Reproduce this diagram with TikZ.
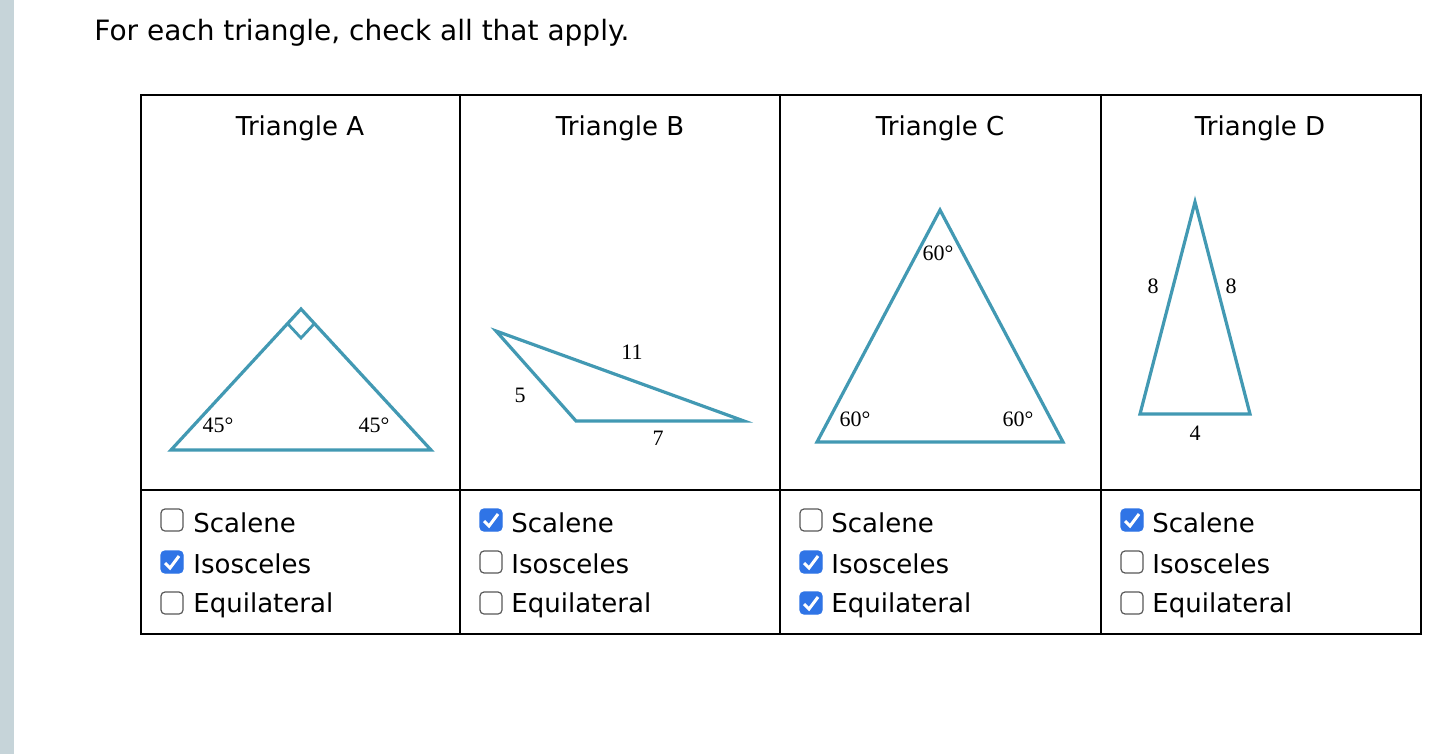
\documentclass[tikz,border=0pt]{standalone}
\usepackage{fontspec}
\setmainfont{DejaVu Sans}
\newfontfamily\serifnum{Liberation Serif}
\definecolor{tri}{HTML}{4299B3}
\definecolor{cbblue}{HTML}{2F74E6}
\definecolor{barg}{HTML}{C6D4D9}
\tikzset{
 triline/.style={draw=tri,line width=1.6pt,line join=miter},
 lab/.style={font=\serifnum\fontsize{11}{11}\selectfont,inner sep=0pt},
 head/.style={font=\fontsize{13}{13}\selectfont,inner sep=0pt},
 opt/.style={font=\fontsize{13}{13}\selectfont,inner sep=0pt,anchor=west},
 cbempty/.style={draw=black!65,line width=0.6pt,rounded corners=2pt,fill=white},
 cbfull/.style={draw=cbblue,fill=cbblue,line width=0.6pt,rounded corners=2pt}
}
\newcommand{\cbox}[3]{% x y checked
 \ifnum#3=1
  \draw[cbfull] (#1-11,#2-11) rectangle (#1+11,#2+11);
  \draw[white,line width=1.5pt] (#1-7,#2+1) -- (#1-2,#2+6) -- (#1+7,#2-6);
 \else
  \draw[cbempty] (#1-11,#2-11) rectangle (#1+11,#2+11);
 \fi}
\begin{document}
\begin{tikzpicture}[x=0.5pt,y=-0.5pt]
\useasboundingbox (0,0) rectangle (1438,754);
\fill[white] (0,0) rectangle (1438,754);
\fill[barg] (0,0) rectangle (14,754);
\node[anchor=west,font=\fontsize{14}{14}\selectfont,inner sep=0pt] (title) at (94,33) {For each triangle, check all that apply.};
\draw[line width=0.9pt] (141,95) rectangle (1421,634);
\draw[line width=0.9pt] (141,490) -- (1421,490);
\foreach \x in {460,780,1101} \draw[line width=0.9pt] (\x,95) -- (\x,634);
\node[head] (hA) at (300,128) {Triangle A};
\node[head] (hB) at (620,128) {Triangle B};
\node[head] (hC) at (940,128) {Triangle C};
\node[head] (hD) at (1260,128) {Triangle D};
% A
\draw[triline] (171,450) -- (431,450) -- (301,309) -- cycle;
\draw[tri,line width=1.4pt] (287,323) -- (301,338) -- (315,323);
\node[lab] (a1) at (218,425) {45°};
\node[lab] (a2) at (374,425) {45°};
% B
\draw[triline] (496,331) -- (576,421) -- (744,421) -- cycle;
\node[lab] (b1) at (632,352) {11};
\node[lab] (b2) at (520,395) {5};
\node[lab] (b3) at (658,438) {7};
% C
\draw[triline] (817,442) -- (1063,442) -- (940,210) -- cycle;
\node[lab] (c1) at (938,253) {60°};
\node[lab] (c2) at (855,419) {60°};
\node[lab] (c3) at (1018,419) {60°};
% D
\draw[triline] (1140,414) -- (1250,414) -- (1195,202) -- cycle;
\node[lab] (d1) at (1153,286) {8};
\node[lab] (d2) at (1231,286) {8};
\node[lab] (d3) at (1195,433) {4};
% checkboxes
\cbox{172}{520}{0}\cbox{172}{562}{1}\cbox{172}{603}{0}
\cbox{491}{520}{1}\cbox{491}{562}{0}\cbox{491}{603}{0}
\cbox{811}{520}{0}\cbox{811}{562}{1}\cbox{811}{603}{1}
\cbox{1132}{520}{1}\cbox{1132}{562}{0}\cbox{1132}{603}{0}
\foreach \x/\n in {193/a,511/b,831/c,1152/d}{
 \node[opt] (s\n) at (\x,523) {Scalene};
 \node[opt] (i\n) at (\x,564) {Isosceles};
 \node[opt] (e\n) at (\x,605) {Equilateral};
}
\end{tikzpicture}
\end{document}
